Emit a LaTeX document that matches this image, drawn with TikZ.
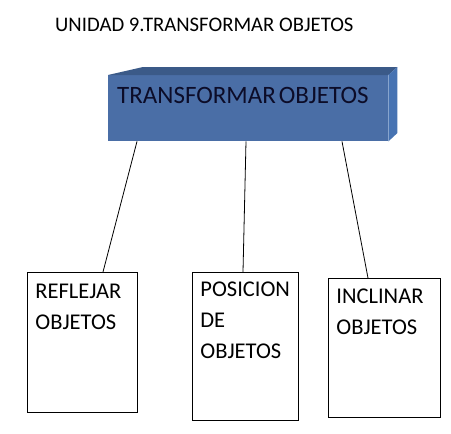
\documentclass[tikz,border=0pt]{standalone}
\usepackage{fontspec}
\setmainfont{Carlito}
\usepackage{xcolor}
\usetikzlibrary{positioning}
\definecolor{frontblue}{HTML}{4A6EA6}
\definecolor{topblue}{HTML}{3B5A88}
\definecolor{sideblue}{HTML}{4773B2}
\definecolor{navytext}{HTML}{0C0C28}
\tikzset{
  leaf/.style={draw=black, line width=0.8pt, anchor=north west, align=left, inner xsep=8pt, inner ysep=0pt,
    font=\fontsize{22.5}{31}\selectfont, text height=26pt},
  link/.style={draw=black, line width=0.8pt}
}
\begin{document}
\begin{tikzpicture}[x=1pt, y=-1pt]
	\useasboundingbox (0,0) rectangle (451,434);
	\node[anchor=base west, font=\fontsize{20.7}{24}\selectfont, inner sep=0pt] (title) at (55,31) {UNIDAD 9.TRANSFORMAR OBJETOS};
	\node[fill=frontblue, anchor=north west, minimum width=280pt, minimum height=66pt, text width=262pt, inner xsep=9pt, align=left,
		font=\fontsize{25}{28}\selectfont, text height=15pt, text depth=25pt, text=navytext] (main) at (108,75) {TRANSFORMAR\hspace{3pt}OBJETOS};
	\fill[topblue] (main.north west) -- ++(35,-8) -- ([xshift=9pt,yshift=8pt]main.north east) -- (main.north east) -- cycle;
	\fill[sideblue] (main.north east) -- ++(9,-8) -- ++(0,66) -- (main.south east) -- cycle;
	\node[leaf, text width=94pt, text depth=114pt] (reflejar) at (27,272) {REFLEJAR\\OBJETOS};
	\node[leaf, text width=90pt, text depth=124pt, text height=24pt] (posicion) at (192,272) {POSICION\\DE\\OBJETOS};
	\node[leaf, text width=96pt, text depth=114pt, text height=25pt] (inclinar) at (328,278) {INCLINAR\\OBJETOS};
	\draw[link] ([xshift=29pt]main.south west) -- ([xshift=76pt]reflejar.north west);
	\draw[link] ([xshift=138pt]main.south west) -- ([xshift=51pt]posicion.north west);
	\draw[link] ([xshift=234pt]main.south west) -- ([xshift=40pt]inclinar.north west);
\end{tikzpicture}
\end{document}
